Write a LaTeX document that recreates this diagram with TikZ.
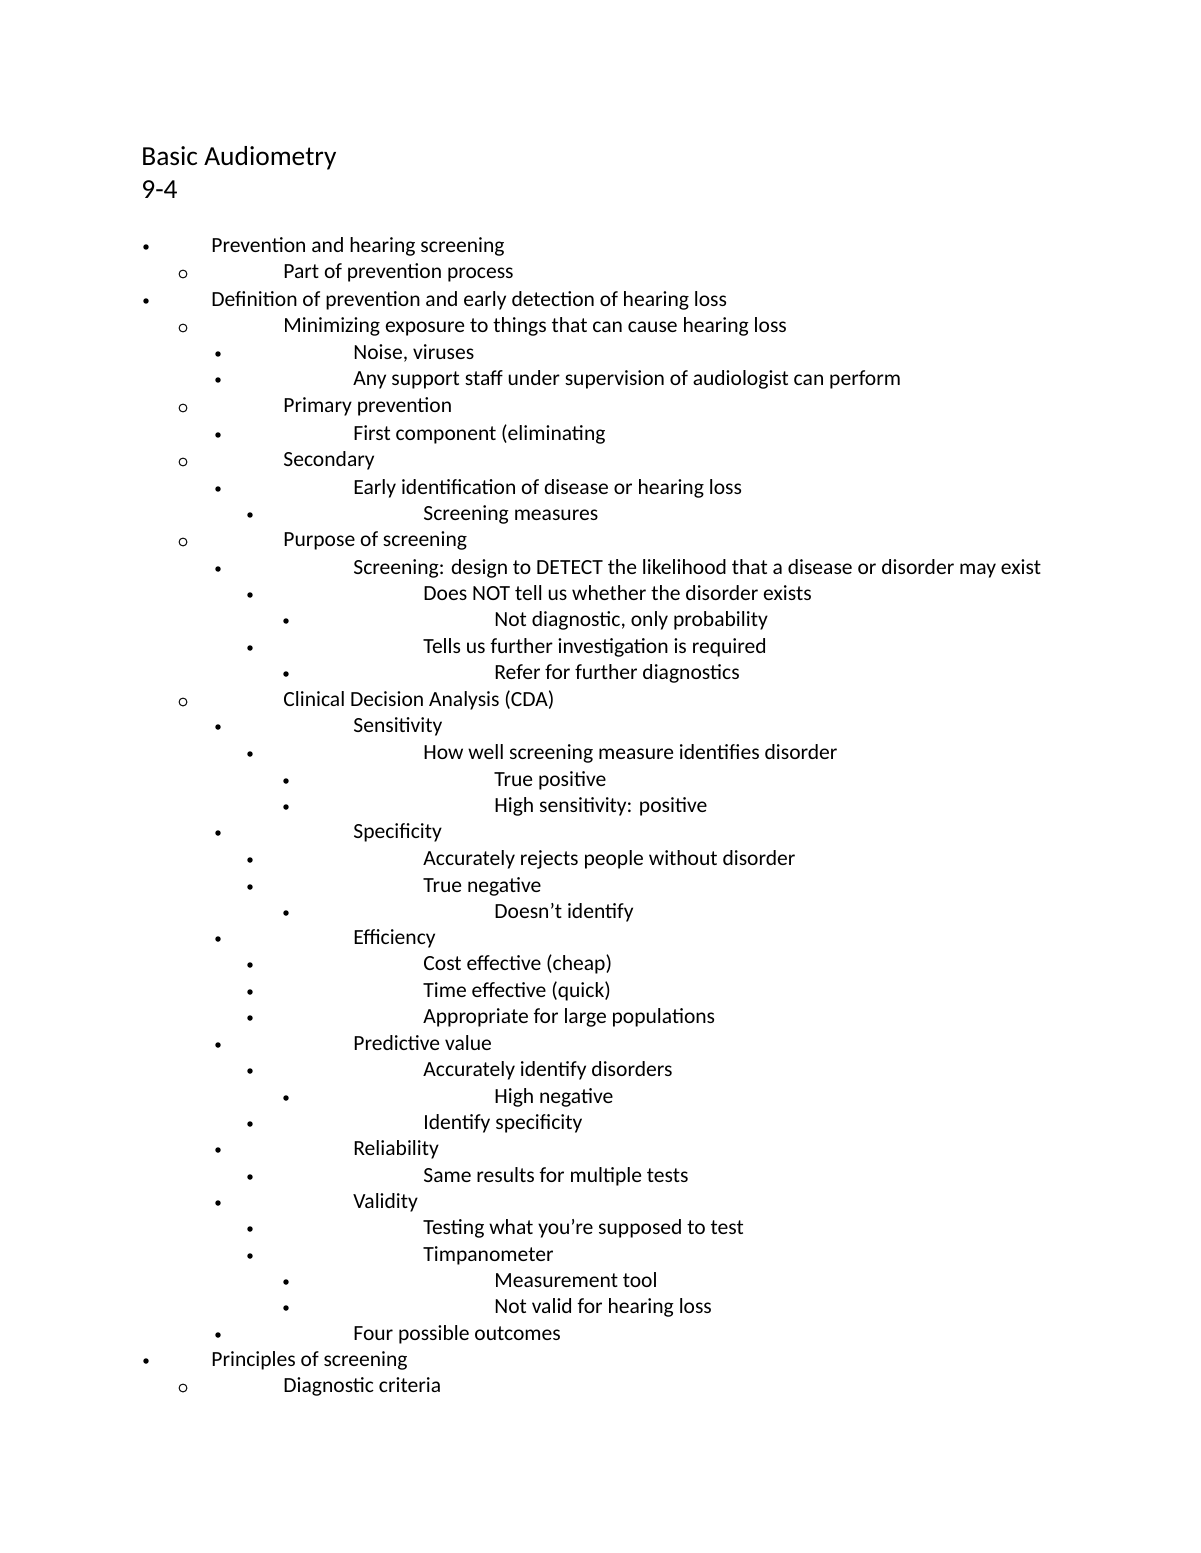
\documentclass[tikz,border=0pt]{standalone}
\usepackage{fontspec}
\setmainfont{Carlito}
\begin{document}
\begin{tikzpicture}[x=0.51pt,y=-0.51pt,
  txt/.style={anchor=west,inner sep=0pt,font=\fontsize{11}{13}\selectfont,text height=1.6ex,text depth=0.4ex},
  ttl/.style={anchor=west,inner sep=0pt,font=\fontsize{14}{16}\selectfont,text height=1.6ex,text depth=0.4ex},
  bul/.style={circle,fill=black,inner sep=0pt,minimum size=2.8pt},
  circ/.style={circle,draw=black,line width=0.5pt,inner sep=0pt,minimum size=4pt}]
\useasboundingbox (0,0) rectangle (1200,1553);
\node[ttl] (t1) at (141,160) {Basic Audiometry};
\node[ttl] (t2) at (141,193) {9-4};
\foreach \y/\l/\t [count=\i] in {
247/1/Prevention and hearing screening,
273/2/Part of prevention process,
301/1/Definition of prevention and early detection of hearing loss,
327/2/Minimizing exposure to things that can cause hearing loss,
354/3/{Noise, viruses},
380/3/Any support staff under supervision of audiologist can perform,
407/2/Primary prevention,
435/3/First component (eliminating/reducing exposure),
461/2/Secondary,
489/3/Early identification of disease or hearing loss,
515/4/Screening measures,
541/2/Purpose of screening,
569/3/Screening: design to DETECT the likelihood that a disease or disorder may exist,
595/4/Does NOT tell us whether the disorder exists,
621/5/{Not diagnostic, only probability},
648/4/Tells us further investigation is required,
674/5/Refer for further diagnostics,
701/2/Clinical Decision Analysis (CDA),
727/3/Sensitivity,
754/4/How well screening measure identifies disorder,
781/5/True positive,
807/5/High sensitivity: positive,
833/3/Specificity,
860/4/Accurately rejects people without disorder,
887/4/True negative,
913/5/Doesn’t identify,
939/3/Efficiency,
965/4/Cost effective (cheap),
992/4/Time effective (quick),
1018/4/Appropriate for large populations,
1045/3/Predictive value,
1071/4/Accurately identify disorders,
1098/5/High negative,
1124/4/Identify specificity,
1150/3/Reliability,
1177/4/Same results for multiple tests,
1203/3/Validity,
1229/4/Testing what you’re supposed to test,
1256/4/Timpanometer,
1282/5/Measurement tool,
1308/5/Not valid for hearing loss/levels,
1335/3/Four possible outcomes,
1361/1/Principles of screening,
1387/2/Diagnostic criteria}{
  \pgfmathsetmacro{\tx}{{0,211,283,353,423,494}[\l]}
  \pgfmathsetmacro{\bx}{{0,146,183,218,250,286}[\l]}
  \node[txt] (e\i) at (\tx,\y) {\t};
  \ifnum\l=2
    \node[circ] (b\i) at (\bx,\y+1) {};
  \else
    \node[bul] (b\i) at (\bx,\y) {};
  \fi
}
\end{tikzpicture}
\end{document}
